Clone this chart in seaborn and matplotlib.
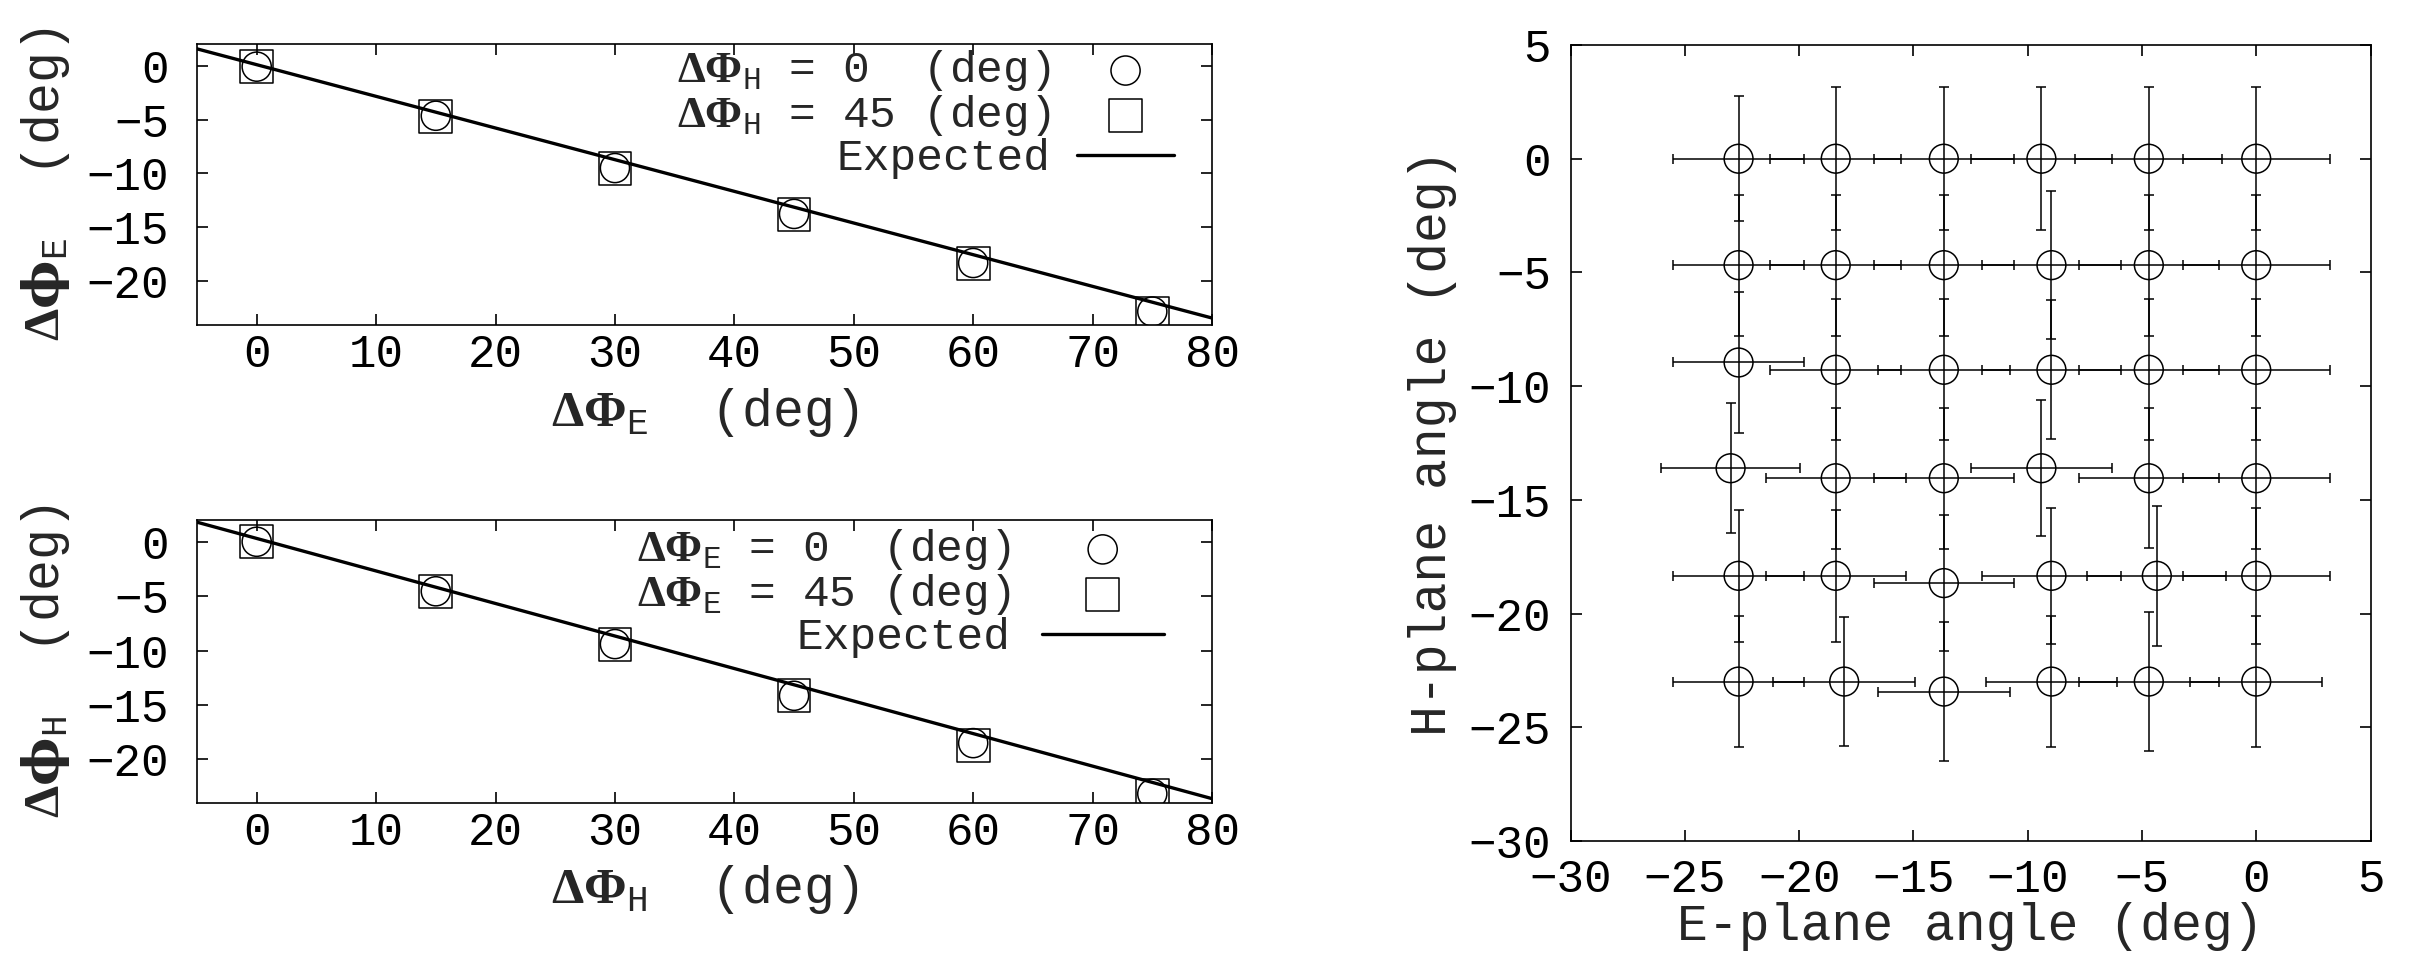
import matplotlib
matplotlib.use("Agg")
import matplotlib.pyplot as plt
import seaborn as sns

# ---- left panels: measured vs. applied phase shift ----
phi_set = [0, 15, 30, 45, 60, 75]
exp_x = [-5, 80]

# top: dphi_E vs dPhi_E
dphiE_h0 = [-0.1, -4.65, -9.5, -13.75, -18.3, -22.8]
dphiE_h45 = [-0.1, -4.7, -9.5, -13.8, -18.35, -22.95]
expE_y = [1.55, -23.4]

# bottom: dphi_H vs dPhi_H
dphiH_e0 = [0.0, -4.55, -9.4, -14.15, -18.5, -23.15]
dphiH_e45 = [0.0, -4.55, -9.4, -14.15, -18.75, -23.3]
expH_y = [1.8, -23.6]

# ---- right panel: beam pointing grid with error bars ----
e_ang = [-22.65, -18.4, -13.67, -9.40, -4.70, 0.0,
         -22.65, -18.4, -13.67, -8.96, -4.70, 0.0,
         -22.65, -18.4, -13.67, -8.96, -4.70, 0.0,
         -23.0, -18.4, -13.67, -9.40, -4.70, 0.0,
         -22.65, -18.4, -13.67, -8.96, -4.35, 0.0,
         -22.65, -18.03, -13.67, -8.96, -4.70, 0.0]
h_ang = [0.0, 0.0, 0.0, 0.0, 0.0, 0.0,
         -4.68, -4.68, -4.68, -4.68, -4.68, -4.68,
         -8.96, -9.28, -9.28, -9.28, -9.28, -9.28,
         -13.61, -14.05, -14.05, -13.61, -14.05, -14.05,
         -18.34, -18.34, -18.66, -18.34, -18.34, -18.34,
         -22.99, -22.99, -23.43, -22.99, -22.99, -22.99]
e_err = [2.88, 2.87, 3.05, 3.10, 3.22, 3.22,
         2.88, 2.87, 3.05, 3.06, 3.07, 3.22,
         2.88, 2.87, 2.89, 3.06, 3.07, 3.22,
         3.05, 3.06, 3.05, 3.08, 3.07, 3.22,
         2.88, 3.06, 3.05, 3.06, 3.04, 3.22,
         2.88, 3.10, 2.89, 2.88, 3.07, 2.89]
h_err = [2.75, 3.15, 3.15, 3.15, 3.15, 3.15,
         3.10, 3.10, 3.10, 3.24, 3.10, 3.10,
         3.08, 3.10, 3.10, 3.05, 3.10, 3.10,
         2.85, 3.10, 3.10, 3.00, 3.08, 3.10,
         2.90, 2.89, 3.00, 3.00, 3.07, 3.00,
         2.89, 2.85, 3.05, 2.89, 3.05, 2.89]

sns.set_theme(style="ticks")
plt.rcParams["font.family"] = ["Liberation Mono", "DejaVu Sans"]
plt.rcParams["mathtext.fontset"] = "custom"
plt.rcParams["mathtext.rm"] = "Liberation Mono"
plt.rcParams["mathtext.it"] = "Liberation Mono"
plt.rcParams["mathtext.bf"] = "Liberation Serif:bold"
plt.rcParams["mathtext.sf"] = "DejaVu Serif:bold"
plt.rcParams["axes.edgecolor"] = "black"
plt.rcParams["axes.linewidth"] = 1.2
plt.rcParams["xtick.color"] = "black"
plt.rcParams["ytick.color"] = "black"

TICK_FS = 33
LAB_FS = 37
LEG_FS = 32

fig = plt.figure(figsize=(24.12, 9.74), dpi=100)
W, H = 2412, 974


def px_axes(l, r, t, b):
    return fig.add_axes([l / W, 1 - b / H, (r - l) / W, (b - t) / H])


def style(ax, xpad, ypad):
    ax.tick_params(direction="in", top=True, right=True, length=8, width=1.2,
                   labelsize=TICK_FS, colors="black")
    ax.tick_params(axis="x", pad=xpad)
    ax.tick_params(axis="y", pad=ypad)
    for s in ax.spines.values():
        s.set_visible(True)
        s.set_color("black")
        s.set_linewidth(1.2)


def phase_panel(ax, y0, y45, yexp, sub, other, lab_y, spacing, hlen, tpad, anchor):
    sns.scatterplot(x=phi_set, y=y0, marker="o", s=440, facecolors="none",
                    edgecolor="black", linewidth=1.1, ax=ax, zorder=3,
                    label=r"$\mathbf{\Delta\Phi}_{\mathrm{%s}}$ = 0  (deg)" % other)
    sns.scatterplot(x=phi_set, y=y45, marker="s", s=560, facecolors="none",
                    edgecolor="black", linewidth=1.1, ax=ax, zorder=3,
                    label=r"$\mathbf{\Delta\Phi}_{\mathrm{%s}}$ = 45 (deg)" % other)
    sns.lineplot(x=exp_x, y=yexp, color="black", linewidth=2.4, ax=ax,
                 label="Expected", zorder=2)
    ax.set_xlim(-5, 80)
    ax.set_ylim(-24, 2)
    ax.set_xticks(range(0, 81, 10))
    ax.set_yticks([0, -5, -10, -15, -20])
    style(ax, 6, 20)
    ax.set_xlabel(r"$\mathbf{\Delta\Phi}_{\mathrm{%s}}$  (deg)" % sub, fontsize=LAB_FS)
    ax.set_ylabel(r"$\mathbf{\Delta}\mathsf{\phi}_{\mathrm{%s}}$  (deg)" % sub,
                  fontsize=LAB_FS)
    ax.xaxis.label.set_va("center")
    ax.yaxis.label.set_va("center")
    ax.yaxis.label.set_ha("center")
    ax.xaxis.set_label_coords(0.5, lab_y)
    ax.yaxis.set_label_coords(-0.149, 0.5)
    h, l = ax.get_legend_handles_labels()
    ax.legend(h, l, loc="upper right", bbox_to_anchor=anchor, frameon=False,
              markerfirst=False, fontsize=LEG_FS, handlelength=hlen,
              handletextpad=tpad, labelspacing=spacing, borderpad=0,
              borderaxespad=0)


ax1 = px_axes(197, 1212, 44, 324.5)
phase_panel(ax1, dphiE_h0, dphiE_h45, expE_y, "E", "H", -0.312, 0.0, 2.2, 0.6,
            (0.963, 0.985))

ax2 = px_axes(197, 1212, 520, 803)
phase_panel(ax2, dphiH_e0, dphiH_e45, expH_y, "H", "E", -0.307, 0.0, 2.75, 0.7,
            (0.9525, 0.975))

ax3 = px_axes(1570.6, 2370.5, 45, 841)
ax3.errorbar(e_ang, h_ang, xerr=e_err, yerr=h_err, fmt="none", ecolor="black",
             elinewidth=1.1, capsize=3.6, capthick=1.1, zorder=2)
sns.scatterplot(x=e_ang, y=h_ang, marker="o", s=430, facecolors="none",
                edgecolor="black", linewidth=1.1, ax=ax3, zorder=3)
ax3.set_xlim(-30, 5)
ax3.set_ylim(-30, 5)
ax3.set_xticks(range(-30, 6, 5))
ax3.set_yticks(range(-30, 6, 5))
style(ax3, 12, 14)
ax3.set_xlabel("E-plane angle (deg)", fontsize=LAB_FS)
ax3.set_ylabel("H-plane angle (deg)", fontsize=LAB_FS)
ax3.xaxis.label.set_va("center")
ax3.yaxis.label.set_va("center")
ax3.yaxis.label.set_ha("center")
ax3.xaxis.set_label_coords(0.5, -0.108)
ax3.yaxis.set_label_coords(-0.173, 0.5)

fig.savefig("out.png", dpi=100, facecolor="white")
